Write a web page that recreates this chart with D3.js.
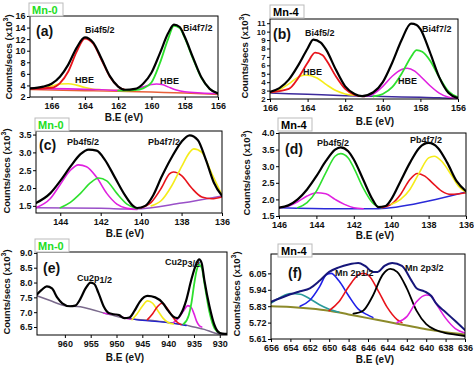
<!DOCTYPE html>
<html><head><meta charset="utf-8">
<script src="https://cdn.jsdelivr.net/npm/d3@7"></script>
<style>
body{margin:0;background:#fff}
svg{display:block;font-family:"Liberation Sans",Arial,sans-serif;font-weight:bold}
</style></head><body>
<svg id="c" width="474" height="365"></svg>
<script>
// ---------- Tick labels ----------
const a_xticks=[166,164,162,160,158,156], a_yticks=[2,4,6,8,10,12,14,16];
const b_xticks=[166,164,162,160,158,156], b_yticks=[2,3,4,5,6,7,8,9,10,11];
const c_xticks=[144,142,140,138,136], c_yticks=[1.5,2.0,2.5,3.0,3.5];
const d_xticks=[146,144,142,140,138,136], d_yticks=[1.5,2.0,2.5,3.0,3.5,4.0];
const e_xticks=[960,955,950,945,940,935,930], e_yticks=[6.5,7.0,7.5,8.0,8.5,9.0];
const f_xticks=[656,654,652,650,648,646,644,642,640,638,636], f_yticks=[5.61,5.72,5.83,5.94,6.05];

// ---------- Panel (a) Mn-0 Bi4f ----------
const a_bg=[[167.3,3.3],[164,3.1],[162,3.0],[160,2.85],[158,2.7],[156,2.45]];
const a_yellow=[[167.3,3.4],[166.5,3.6],[166,3.9],[165.5,4.25],[165,4.3],[164.5,4.05],[164,3.65],[163.5,3.35],[163,3.25],[162,3.15],[161,3.1]];
const a_magenta=[[167.3,3.5],[165,3.4],[163,3.25],[162,3.15],[161,3.3],[160.5,3.75],[160,4.15],[159.7,4.25],[159.3,4.1],[159,3.75],[158.5,3.2],[158,2.9],[157,2.7],[156,2.6]];
const a_red=[[167.3,3.4],[166,3.6],[165.5,4.4],[165,6.4],[164.5,9.8],[164,12.1],[163.5,11.2],[163,8.4],[162.5,5.5],[162,3.8],[161.5,3.2],[161,3.1]];
const a_green=[[162,3.1],[161,3.2],[160.5,3.5],[160,4.5],[159.5,7.8],[159,12.0],[158.65,14.3],[158.3,13.9],[158,12.2],[157.5,8.6],[157,5.3],[156.5,3.4],[156,2.6]];
const a_black=[[167.3,3.5],[166.5,3.8],[166,4.3],[165.5,5.5],[165,7.6],[164.5,10.5],[164,12.3],[163.5,11.4],[163,8.6],[162.5,5.6],[162,3.8],[161.6,3.25],[161,3.4],[160.5,4.3],[160,6.2],[159.5,9.5],[159,13.0],[158.65,14.5],[158.3,14.1],[158,12.4],[157.5,8.8],[157,5.4],[156.5,3.4],[156,2.6]];

// ---------- Panel (b) Mn-4 Bi4f ----------
const b_bg=[[166,2.7],[164,2.55],[162,2.4],[160,2.3],[158,2.2],[157,2.15],[156,2.05]];
const b_yellow=[[166,2.75],[165.5,3.1],[165,3.8],[164.5,4.6],[164.1,4.85],[163.5,4.5],[163,3.7],[162.5,3.0],[162,2.6],[161.5,2.45]];
const b_red=[[166,2.8],[165,3.2],[164.5,4.5],[164,6.3],[163.6,7.5],[163.2,7.2],[163,6.6],[162.5,4.7],[162,3.2],[161.5,2.5],[161,2.3]];
const b_magenta=[[161,2.3],[160.5,2.6],[160,3.5],[159.5,4.7],[159,5.5],[158.7,5.65],[158.3,5.3],[158,4.7],[157.5,3.6],[157,2.7],[156.5,2.2],[156,2.05]];
const b_green=[[160.5,2.3],[160,2.6],[159.5,3.4],[159,5.0],[158.5,7.0],[158.2,7.8],[157.9,7.6],[157.5,6.6],[157,4.6],[156.5,2.9],[156,2.2]];
const b_black=[[166,2.85],[165.5,3.3],[165,4.3],[164.5,6.0],[164,8.0],[163.7,9.05],[163.3,8.7],[163,7.8],[162.5,5.5],[162,3.5],[161.5,2.6],[161.1,2.35],[160.5,2.8],[160,4.0],[159.5,6.3],[159,9.0],[158.5,10.95],[158.2,10.8],[158,10.3],[157.5,7.6],[157,4.6],[156.5,2.7],[156,2.1]];

// ---------- Panel (c) Mn-0 Pb4f ----------
const c_bg=[[145.2,1.45],[142,1.43],[140.3,1.41],[138,1.58],[136,1.78]];
const c_magenta=[[145.2,1.45],[144.5,1.7],[144,2.1],[143.5,2.5],[143.1,2.65],[142.7,2.6],[142.2,2.3],[141.7,1.85],[141.2,1.55],[140.7,1.43],[140.2,1.4]];
const c_green=[[144,1.45],[143.5,1.6],[143,1.85],[142.5,2.15],[142.1,2.28],[141.7,2.2],[141.2,1.85],[140.7,1.55],[140.2,1.42]];
const c_red=[[140,1.45],[139.5,1.6],[139,2.0],[138.6,2.4],[138.4,2.45],[138,2.35],[137.5,2.0],[137,1.75],[136.5,1.7],[136,1.75]];
const c_yellow=[[139.5,1.5],[139,1.65],[138.5,2.05],[138,2.6],[137.6,3.0],[137.4,3.1],[137,3.0],[136.5,2.4],[136,1.8]];
const c_black=[[145.2,1.58],[144.5,1.85],[144,2.2],[143.5,2.6],[143,2.95],[142.6,3.08],[142.2,3.05],[141.8,2.8],[141.3,2.3],[140.8,1.8],[140.4,1.5],[140.2,1.44],[139.8,1.5],[139.4,1.8],[139,2.3],[138.5,2.85],[138,3.3],[137.6,3.48],[137.2,3.35],[136.8,2.8],[136.4,2.15],[136,1.78]];

// ---------- Panel (d) Mn-4 Pb4f ----------
const d_bg=[[146,1.75],[143,1.72],[140.7,1.72],[138,1.95],[136,2.22]];
const d_magenta=[[146,1.75],[145.5,1.8],[145,1.93],[144.5,2.1],[144,2.2],[143.5,2.17],[143,2.0],[142.5,1.85],[142,1.75],[141.5,1.72]];
const d_green=[[145,1.75],[144.5,1.9],[144,2.25],[143.5,2.8],[143,3.3],[142.7,3.38],[142.3,3.25],[142,2.95],[141.5,2.35],[141,1.9],[140.5,1.75]];
const d_red=[[140.5,1.75],[140,1.85],[139.5,2.15],[139,2.6],[138.6,2.78],[138.2,2.7],[137.8,2.5],[137.3,2.25],[136.8,2.15],[136,2.2]];
const d_yellow=[[140,1.85],[139.5,2.0],[139,2.3],[138.5,2.8],[138,3.25],[137.7,3.3],[137.3,3.15],[136.8,2.75],[136.4,2.4],[136,2.22]];
const d_black=[[146,1.75],[145.5,1.82],[145,2.0],[144.5,2.3],[144,2.7],[143.5,3.15],[143,3.5],[142.7,3.57],[142.3,3.45],[142,3.2],[141.5,2.6],[141,2.0],[140.7,1.77],[140.3,1.8],[140,2.0],[139.5,2.55],[139,3.1],[138.5,3.55],[138,3.7],[137.5,3.55],[137,3.1],[136.5,2.55],[136,2.25]];

// ---------- Panel (e) Mn-0 Cu2p ----------
const e_bg=[[965.4,7.55],[963,7.4],[960,7.22],[957,7.18],[955,7.1],[952,6.95],[949,6.82],[946,6.75],[943,6.72],[940,6.65],[937,6.58],[935,6.5],[933,6.42],[931,6.3],[929.5,6.25],[928.6,6.25]];
const e_blue=[[948,6.8],[945,6.72],[942,6.68],[939,6.62],[936.5,6.55]];
const e_magenta=[[952.5,6.97],[951,6.93],[950,6.92],[949,6.85],[948,6.78],[947,6.76]];
const e_magenta2=[[939,6.65],[938,6.8],[937,7.05],[936.2,7.22],[935.5,7.15],[935,6.95],[934.5,6.7],[934,6.55],[933.5,6.5]];
const e_yellow=[[947,6.75],[946,6.95],[945,7.2],[944,7.38],[943,7.3],[942,7.05],[941,6.8],[940,6.65],[939,6.6]];
const e_red=[[944,6.75],[943,6.95],[942,7.2],[941.2,7.3],[940.5,7.2],[939.5,6.95],[938.5,6.7],[937.5,6.58]];
const e_green=[[937,6.6],[936,6.9],[935.5,7.3],[935,7.9],[934.5,8.4],[934,8.6],[933.5,8.5],[933,8.0],[932,7.0],[931,6.45],[930,6.3]];
const e_black=[[965.4,7.6],[964.5,7.75],[963.5,7.87],[962.5,7.8],[961.5,7.5],[960.5,7.3],[959,7.2],[958,7.22],[957,7.45],[956,7.8],[955,8.0],[954.3,7.95],[953.5,7.65],[952.5,7.2],[951.5,6.97],[950.5,6.93],[949.5,6.9],[948.5,6.8],[947.5,6.82],[946.5,7.05],[945.5,7.35],[944,7.55],[942.5,7.5],[941,7.3],[940,7.05],[939,6.85],[938.2,6.8],[937.5,6.95],[936.5,7.4],[935.5,8.1],[934.5,8.65],[934,8.78],[933.5,8.65],[933,8.1],[932,7.2],[931,6.55],[930,6.3],[929,6.27],[928.6,6.27]];

// ---------- Panel (f) Mn-4 Mn2p ----------
const f_bg=[[656,5.83],[654,5.825],[652,5.815],[650,5.8],[648,5.775],[646,5.75],[644,5.725],[642,5.7],[640,5.675],[638,5.655],[636,5.64]];
const f_teal=[[656,5.85],[655,5.89],[654,5.915],[653,5.91],[652,5.88],[651,5.84],[650,5.81],[649,5.79]];
const f_blue=[[653,5.83],[652,5.87],[651,5.96],[650.3,6.04],[649.8,6.05],[649,6.0],[648,5.9],[647,5.81],[646,5.77],[645.5,5.755]];
const f_red=[[650,5.8],[649,5.86],[648,5.96],[647,6.04],[646.5,6.05],[646,6.04],[645,5.94],[644,5.82],[643,5.74],[642.5,5.72]];
const f_black=[[647.5,5.78],[646.5,5.8],[645.5,5.9],[644.5,6.04],[643.7,6.08],[643,6.06],[642,5.95],[641,5.8],[640,5.71],[639,5.67],[638,5.65],[637,5.64],[636,5.63]];
const f_magenta=[[643,5.72],[642,5.76],[641,5.86],[640,5.905],[639.5,5.9],[639,5.85],[638,5.75],[637,5.68],[636,5.65]];
const f_env=[[656,5.86],[655,5.885],[654,5.91],[653,5.93],[652,5.95],[651,6.0],[650,6.06],[649,6.09],[648,6.11],[647,6.12],[646.3,6.1],[645.5,6.06],[645,6.06],[644.3,6.1],[643.5,6.12],[642.5,6.1],[641.5,6.0],[641,5.95],[640.2,5.93],[639.5,5.9],[639,5.85],[638,5.79],[637,5.73],[636,5.67]];

// ---------- Colours ----------
const COL={black:"#000",red:"#e8141c",yellow:"#f5ec1a",green:"#2ee02e",magenta:"#e020e0",bgA:"#e8603a",bgB:"#3c2a9c",bgC:"#9a50c8",bgD:"#2a2ad8",bgE:"#7a6a8c",blue:"#2222cc",teal:"#2a9a9a",fblue:"#2020e8",olive:"#8c8a2a",navy:"#16167a"};

const panels=[
 {x0:30,x1:218,y0:16,y1:97,xd:[167.3,156],yd:[2,16],xt:a_xticks,yt:a_yticks,yf:d3.format("d"),yfs:9,
  series:[[a_bg,COL.bgA,1.5],[a_yellow,COL.yellow,1.6],[a_magenta,COL.magenta,1.6],[a_red,COL.red,1.8],[a_green,COL.green,1.8],[a_black,COL.black,2.2]],
  tag:["Mn-0",29,3,34,13,"#22dd22"],letter:["(a)",36,36],
  texts:[["Bi4f5/2",85,33],["Bi4f7/2",183,31],["HBE",75,83],["HBE",160,84]],
  ytitle:[8,57],xtitle:[124,120.5]},
 {x0:270,x1:458,y0:19,y1:99,xd:[166,156],yd:[2,11.5],xt:b_xticks,yt:b_yticks,yf:d3.format("d"),yfs:7.8,
  series:[[b_bg,COL.bgB,1.5],[b_yellow,COL.yellow,1.6],[b_red,COL.red,1.8],[b_magenta,COL.magenta,1.6],[b_green,COL.green,1.8],[b_black,COL.black,2.2]],
  tag:["Mn-4",270,5,34,13,"#000"],letter:["(b)",273,39],
  texts:[["Bi4f5/2",305,36],["Bi4f7/2",422,32],["HBE",303,75],["HBE",398,84]],
  ytitle:[244,56],xtitle:[375,125]},
 {x0:36,x1:222,y0:131,y1:213,xd:[145.2,136],yd:[1.3,3.6],xt:c_xticks,yt:c_yticks,yf:d3.format(".1f"),yfs:9,
  series:[[c_bg,COL.bgC,1.5],[c_magenta,COL.magenta,1.6],[c_green,COL.green,1.6],[c_red,COL.red,1.6],[c_yellow,COL.yellow,1.6],[c_black,COL.black,2.2]],
  tag:["Mn-0",35,118,34,13,"#22dd22"],letter:["(c)",39,150],
  texts:[["Pb4f5/2",67,145],["Pb4f7/2",148,145]],
  ytitle:[6,171],xtitle:[125,237]},
 {x0:279,x1:466,y0:133,y1:216,xd:[146,136],yd:[1.5,4.0],xt:d_xticks,yt:d_yticks,yf:d3.format(".1f"),yfs:9,
  series:[[d_bg,COL.bgD,1.5],[d_magenta,COL.magenta,1.6],[d_green,COL.green,1.6],[d_red,COL.red,1.6],[d_yellow,COL.yellow,1.6],[d_black,COL.black,2.2]],
  tag:["Mn-4",278,118,34,13,"#000"],letter:["(d)",285,154],
  texts:[["Pb4f5/2",317,146],["Pb4f7/2",410,143]],
  ytitle:[246,173],xtitle:[375,239]},
 {x0:37,x1:227,y0:252,y1:335,xd:[965.4,928.6],yd:[6.23,9.03],xt:e_xticks,yt:e_yticks,yf:d3.format(".1f"),yfs:9,
  series:[[e_bg,COL.bgE,1.5],[e_blue,COL.blue,1.3],[e_magenta,COL.magenta,1.3],[e_magenta2,COL.magenta,1.6],[e_yellow,COL.yellow,1.6],[e_red,COL.red,1.6],[e_green,COL.green,1.8],[e_black,COL.black,2.2]],
  tag:["Mn-0",35,239,34,13,"#22dd22"],letter:["(e)",43,273],
  texts:[["Cu2p",77,281,"1/2"],["Cu2p",165,265,"3/2"]],
  ytitle:[6,292],xtitle:[125,361]},
 {x0:271,x1:465,y0:254,y1:339,xd:[656,636],yd:[5.61,6.18],xt:f_xticks,yt:f_yticks,yf:d3.format(".2f"),yfs:9,
  series:[[f_bg,COL.olive,2],[f_teal,COL.teal,1.6],[f_blue,COL.fblue,1.6],[f_red,COL.red,1.6],[f_black,COL.black,1.8],[f_magenta,COL.magenta,1.6],[f_env,COL.navy,2]],
  tag:["Mn-4",278,244,34,13,"#000"],letter:["(f)",288,278],
  texts:[["Mn 2p1/2",335,276],["Mn 2p3/2",405,271]],
  ytitle:[236,294],xtitle:[375,363]}
];

const svg=d3.select("#c");
panels.forEach((p,i)=>{
  const x=d3.scaleLinear().domain(p.xd).range([p.x0,p.x1]);
  const y=d3.scaleLinear().domain(p.yd).range([p.y1,p.y0]);
  const g=svg.append("g");
  const cid="clip"+i;
  svg.append("clipPath").attr("id",cid).append("rect")
    .attr("x",p.x0).attr("y",p.y0).attr("width",p.x1-p.x0).attr("height",p.y1-p.y0);
  const line=d3.line().x(d=>x(d[0])).y(d=>y(d[1])).curve(d3.curveMonotoneX);
  const cg=g.append("g").attr("clip-path",`url(#${cid})`);
  p.series.forEach(([data,col,w])=>{
    const pts=data.slice().sort((a,b)=>b[0]-a[0]);
    cg.append("path").attr("d",line(pts)).attr("fill","none").attr("stroke",col)
      .attr("stroke-width",w).attr("stroke-linejoin","round").attr("stroke-linecap","round");
  });
  g.append("rect").attr("x",p.x0).attr("y",p.y0).attr("width",p.x1-p.x0).attr("height",p.y1-p.y0)
    .attr("fill","none").attr("stroke","#000").attr("stroke-width",1);
  const xa=g.append("g").attr("transform",`translate(0,${p.y1})`)
    .call(d3.axisBottom(x).tickValues(p.xt).tickSize(3).tickPadding(2.5).tickFormat(d3.format("d")));
  const ya=g.append("g").attr("transform",`translate(${p.x0},0)`)
    .call(d3.axisLeft(y).tickValues(p.yt).tickSize(3).tickPadding(1.5).tickFormat(p.yf));
  [[xa,9],[ya,p.yfs]].forEach(([a,fs])=>{a.select(".domain").remove();
    a.selectAll("text").attr("font-size",fs).attr("font-weight","bold").attr("fill","#111")
      .attr("font-family","Liberation Sans, Arial, sans-serif");
    a.selectAll("line").attr("stroke","#000");});
  g.append("text").attr("x",p.xtitle[0]).attr("y",p.xtitle[1]).attr("text-anchor","middle")
    .attr("font-size",10).attr("fill","#111").text("B.E (eV)");
  const yt=g.append("text").attr("transform",`translate(${p.ytitle[0]+4},${p.ytitle[1]}) rotate(-90)`)
    .attr("text-anchor","middle").attr("font-size",9.5).attr("fill","#111");
  yt.append("tspan").text("Counts/secs (x10");
  yt.append("tspan").attr("dy",-4).attr("font-size",7).text("3");
  yt.append("tspan").attr("dy",4).text(")");
  const [tt,tx,ty,tw,th,tc]=p.tag;
  g.append("rect").attr("x",tx).attr("y",ty).attr("width",tw).attr("height",th)
    .attr("fill","#fff").attr("stroke","#bbb").attr("stroke-width",1);
  g.append("text").attr("x",tx+3).attr("y",ty+th-2).attr("font-size",11).attr("fill",tc).text(tt);
  g.append("text").attr("x",p.letter[1]).attr("y",p.letter[2]).attr("font-size",14).attr("fill","#111").text(p.letter[0]);
  p.texts.forEach(t=>{
    const tx=g.append("text").attr("x",t[1]).attr("y",t[2]).attr("font-size",9).attr("fill","#111");
    tx.append("tspan").text(t[0]);
    if(t[3]) tx.append("tspan").attr("dy",2).text(t[3]);
  });
});
</script>
</body></html>
